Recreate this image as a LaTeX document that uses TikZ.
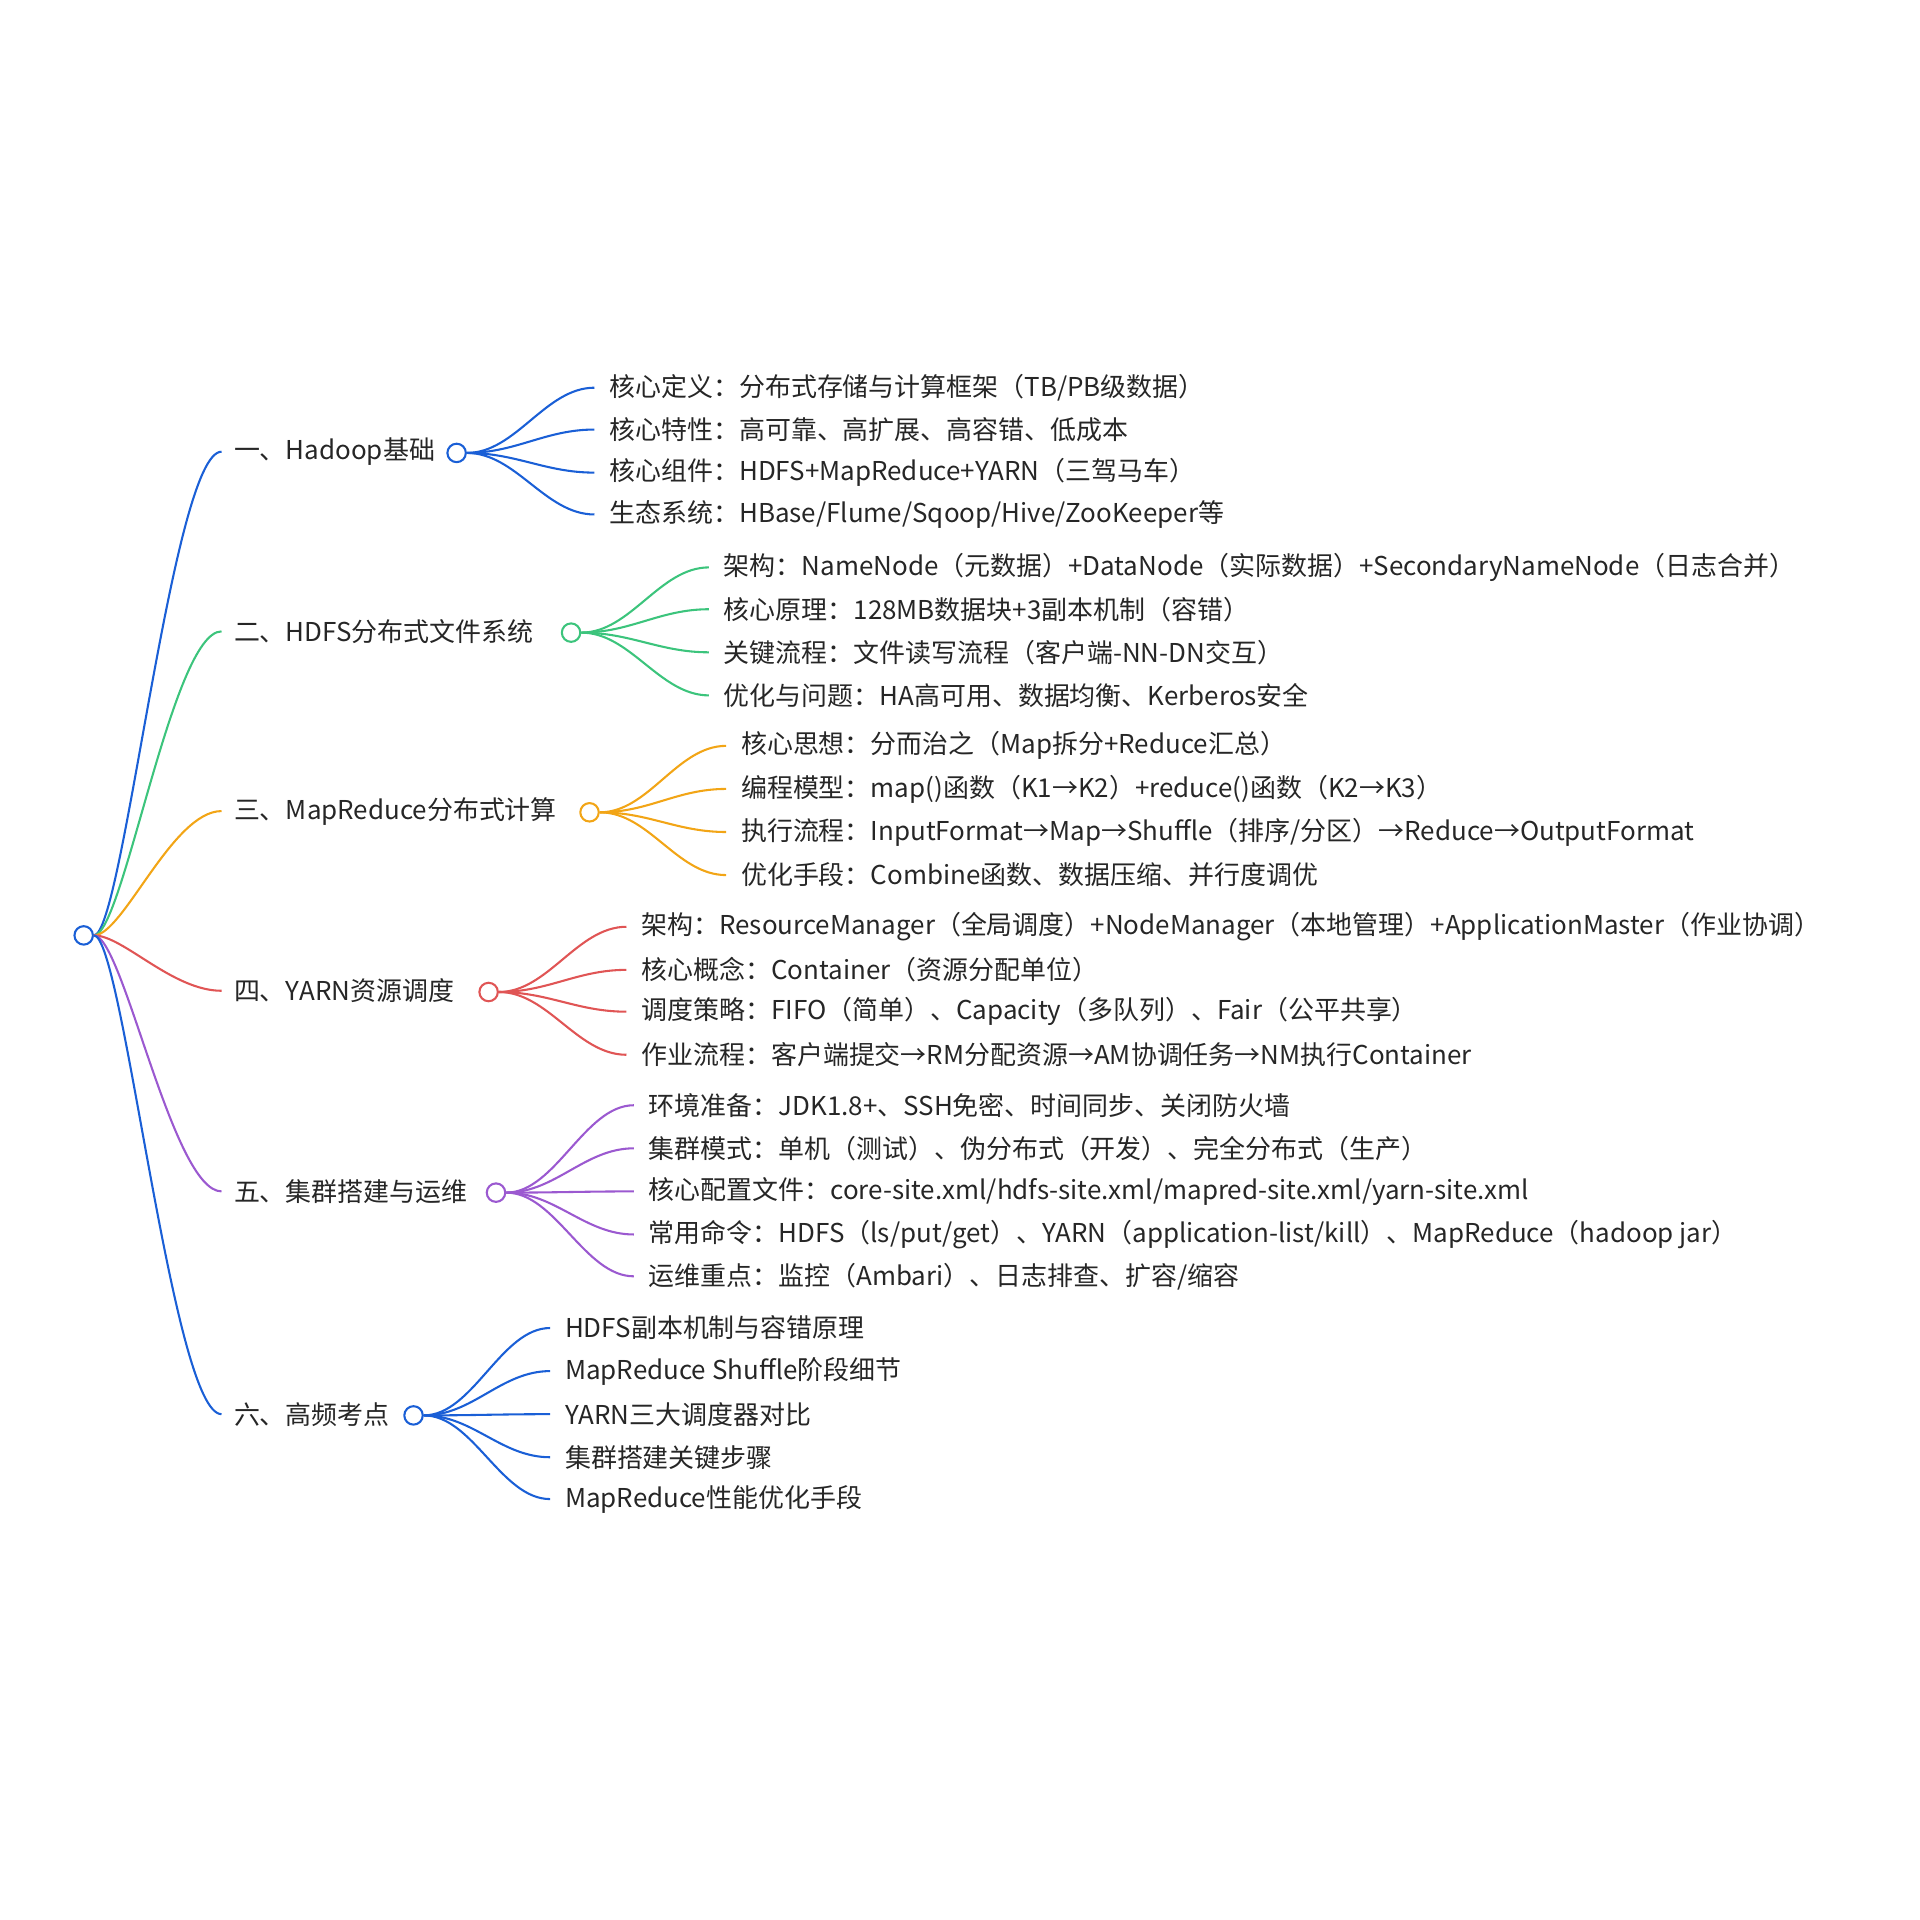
\documentclass[tikz,border=0pt]{standalone}
\usepackage{fontspec}
\setmainfont{Noto Sans CJK SC}
\begin{document}
\begin{tikzpicture}[x=0.05cm,y=-0.05cm,
  lbl/.style={anchor=west,inner sep=0pt,text=black!85,font=\fontsize{30}{36}\selectfont},
  hub/.style={circle,draw,fill=white,line width=2.4pt,minimum size=15*0.05cm,inner sep=0pt},
  edge/.style={line width=2.4pt}]
\definecolor{cA}{HTML}{1A5FD6}
\definecolor{cB}{HTML}{3CC47C}
\definecolor{cC}{HTML}{F2A516}
\definecolor{cD}{HTML}{E05555}
\definecolor{cE}{HTML}{9B59D0}
\useasboundingbox (0,0) rectangle (1560,1560);
\node[hub,draw=cA] (root) at (68,760) {};
% branch helper data
\foreach \n/\c/\y/\hx/\ex/\tx/\lab in {
 1/cA/367/371/483/495/{一、Hadoop基础},
 2/cB/513/464/576/588/{二、HDFS分布式文件系统},
 3/cC/659/479/590/602/{三、MapReduce分布式计算},
 4/cD/805/397/509/521/{四、YARN资源调度},
 5/cE/968/403/515/527/{五、集群搭建与运维},
 6/cA/1149/336/447/459/{六、高频考点}} {
  \coordinate (s\n) at (180,\y);
  \draw[edge,\c] (root.east) .. controls (100,760) and (140,\y) .. (s\n);
  \node[lbl] (b\n) at (190,\y) {\lab};
  \node[hub,draw=\c] (h\n) at (\hx,\y+1) {};
}
\newcommand\kids[4]{% branch, color, endx, list
  \foreach \yy/\tt [count=\i] in {#4} {
    \coordinate (e#1-\i) at (#3,\yy);
    \draw[edge,#2] (h#1.east) .. controls ([xshift=2cm]h#1.east) and ([xshift=-2cm]e#1-\i) .. (e#1-\i);
    \node[lbl] (t#1-\i) at ([xshift=12*0.05cm]e#1-\i) {\tt};
  }}
\kids{1}{cA}{483}{{315}/{核心定义：分布式存储与计算框架（TB/PB级数据）},{349}/{核心特性：高可靠、高扩展、高容错、低成本},{384}/{核心组件：HDFS+MapReduce+YARN（三驾马车）},{418}/{生态系统：HBase/Flume/Sqoop/Hive/ZooKeeper等}}
\kids{2}{cB}{576}{{461}/{架构：NameNode（元数据）+DataNode（实际数据）+SecondaryNameNode（日志合并）},{495}/{核心原理：128MB数据块+3副本机制（容错）},{530}/{关键流程：文件读写流程（客户端-NN-DN交互）},{565}/{优化与问题：HA高可用、数据均衡、Kerberos安全}}
\kids{3}{cC}{590}{{606}/{核心思想：分而治之（Map拆分+Reduce汇总）},{641}/{编程模型：map()函数（K1→K2）+reduce()函数（K2→K3）},{676}/{执行流程：InputFormat→Map→Shuffle（排序/分区）→Reduce→OutputFormat},{711}/{优化手段：Combine函数、数据压缩、并行度调优}}
\kids{4}{cD}{509}{{753}/{架构：ResourceManager（全局调度）+NodeManager（本地管理）+ApplicationMaster（作业协调）},{788}/{核心概念：Container（资源分配单位）},{822}/{调度策略：FIFO（简单）、Capacity（多队列）、Fair（公平共享）},{857}/{作业流程：客户端提交→RM分配资源→AM协调任务→NM执行Container}}
\kids{5}{cE}{515}{{898}/{环境准备：JDK1.8+、SSH免密、时间同步、关闭防火墙},{933}/{集群模式：单机（测试）、伪分布式（开发）、完全分布式（生产）},{968}/{核心配置文件：core-site.xml/hdfs-site.xml/mapred-site.xml/yarn-site.xml},{1003}/{常用命令：HDFS（ls/put/get）、YARN（application-list/kill）、MapReduce（hadoop jar）},{1037}/{运维重点：监控（Ambari）、日志排查、扩容/缩容}}
\kids{6}{cA}{447}{{1079}/{HDFS副本机制与容错原理},{1114}/{MapReduce Shuffle阶段细节},{1149}/{YARN三大调度器对比},{1184}/{集群搭建关键步骤},{1218}/{MapReduce性能优化手段}}
\end{tikzpicture}
\end{document}
